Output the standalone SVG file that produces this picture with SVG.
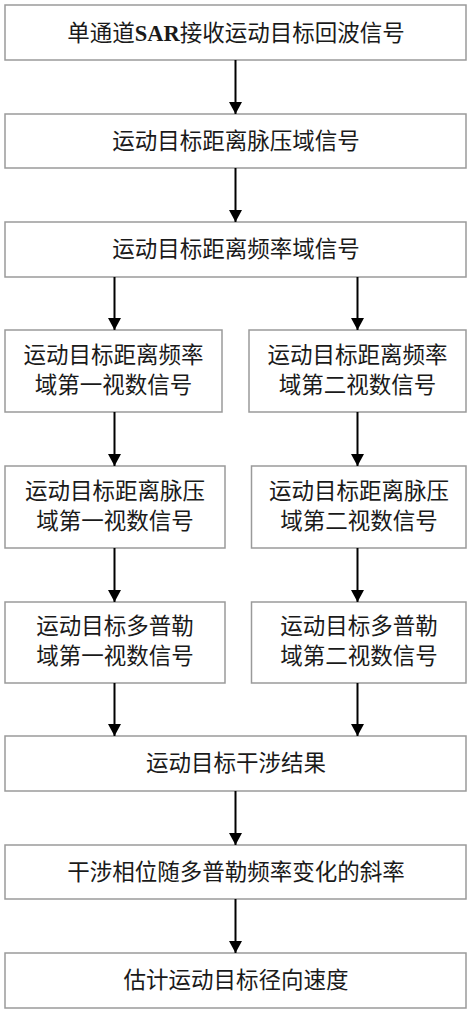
<svg xmlns="http://www.w3.org/2000/svg" width="474" height="1014" viewBox="0 0 474 1014">
<style>
.box{fill:#fff;stroke:#9a9a9a;stroke-width:1.5}
.t{font-family:"Noto Sans CJK SC","Liberation Sans",sans-serif;font-size:22.5px;fill:#1a1a1a;text-anchor:middle}
.lat{font-family:"Liberation Serif",serif;font-weight:bold}
.c{stroke:#000;stroke-width:2;fill:none;marker-end:url(#ah)}
</style>
<defs>
<marker id="ah" viewBox="0 0 12 13" refX="12" refY="6.5" markerWidth="12" markerHeight="13" markerUnits="userSpaceOnUse" orient="auto">
<path d="M0,0 L12,6.5 L0,13 Z" fill="#000"/>
</marker>
</defs>
<rect width="474" height="1014" fill="#fff"/>
<g id="n1"><rect class="box" x="5" y="5" width="461" height="55"/><text class="t" x="236" y="40.5">单通道<tspan class="lat">SAR</tspan>接收运动目标回波信号</text></g>
<g id="n2"><rect class="box" x="5" y="114" width="461" height="54"/><text class="t" x="236" y="149">运动目标距离脉压域信号</text></g>
<g id="n3"><rect class="box" x="5" y="222" width="461" height="55"/><text class="t" x="236" y="257">运动目标距离频率域信号</text></g>
<g id="n4l"><rect class="box" x="5" y="330" width="217" height="82"/><text class="t" x="113.5" y="363">运动目标距离频率</text><text class="t" x="113.5" y="393">域第一视数信号</text></g>
<g id="n4r"><rect class="box" x="249" y="330" width="217" height="82"/><text class="t" x="357.5" y="363">运动目标距离频率</text><text class="t" x="357.5" y="393">域第二视数信号</text></g>
<g id="n5l"><rect class="box" x="5" y="466" width="220" height="82"/><text class="t" x="115" y="499">运动目标距离脉压</text><text class="t" x="115" y="529">域第一视数信号</text></g>
<g id="n5r"><rect class="box" x="251.5" y="466" width="214.5" height="82"/><text class="t" x="359" y="499">运动目标距离脉压</text><text class="t" x="359" y="529">域第二视数信号</text></g>
<g id="n6l"><rect class="box" x="5" y="602" width="220" height="81"/><text class="t" x="115" y="634">运动目标多普勒</text><text class="t" x="115" y="664">域第一视数信号</text></g>
<g id="n6r"><rect class="box" x="251.5" y="602" width="214.5" height="81"/><text class="t" x="359" y="634">运动目标多普勒</text><text class="t" x="359" y="664">域第二视数信号</text></g>
<g id="n7"><rect class="box" x="5" y="736" width="461" height="55"/><text class="t" x="236" y="771">运动目标干涉结果</text></g>
<g id="n8"><rect class="box" x="5" y="845" width="461" height="54"/><text class="t" x="236" y="880">干涉相位随多普勒频率变化的斜率</text></g>
<g id="n9"><rect class="box" x="5" y="953" width="461" height="55"/><text class="t" x="236" y="988">估计运动目标径向速度</text></g>
<g id="connectors">
<line class="c" x1="235.5" y1="60" x2="235.5" y2="114"/>
<line class="c" x1="235.5" y1="168" x2="235.5" y2="222"/>
<line class="c" x1="114.5" y1="277" x2="114.5" y2="330"/>
<line class="c" x1="357.5" y1="277" x2="357.5" y2="330"/>
<line class="c" x1="114.5" y1="412" x2="114.5" y2="466"/>
<line class="c" x1="357.5" y1="412" x2="357.5" y2="466"/>
<line class="c" x1="114.5" y1="548" x2="114.5" y2="602"/>
<line class="c" x1="357.5" y1="548" x2="357.5" y2="602"/>
<line class="c" x1="114.5" y1="683" x2="114.5" y2="736"/>
<line class="c" x1="357.5" y1="683" x2="357.5" y2="736"/>
<line class="c" x1="235.5" y1="791" x2="235.5" y2="845"/>
<line class="c" x1="235.5" y1="899" x2="235.5" y2="953"/>
</g>
</svg>
